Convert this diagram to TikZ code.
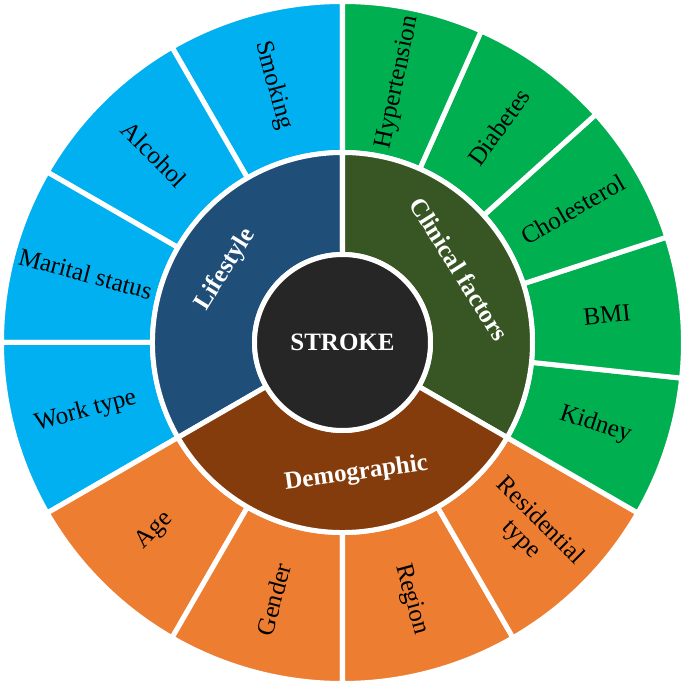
\documentclass[tikz,border=0pt]{standalone}
\usepackage{fontspec}
\setmainfont{Liberation Serif}
\definecolor{cblue}{HTML}{00B0F0}
\definecolor{cgreen}{HTML}{00B050}
\definecolor{corange}{HTML}{ED7D31}
\definecolor{dblue}{HTML}{1F4E79}
\definecolor{dgreen}{HTML}{375623}
\definecolor{dbrown}{HTML}{843C0C}
\definecolor{ccore}{HTML}{262626}
\tikzset{sep/.style={draw=white,line width=5pt,line join=miter},
 olab/.style={font=\fontsize{25}{26}\selectfont,align=center,text=black,inner sep=1pt},
 mlab/.style={font=\bfseries\fontsize{25}{27}\selectfont,text=white,inner sep=1pt}}
\newcommand{\sector}[5]{\filldraw[sep,fill=#1] (#2:#4) arc (#2:#3:#4) -- (#3:#5) arc (#3:#2:#5) -- cycle;}
\begin{document}
\begin{tikzpicture}[x=1pt,y=1pt]
\useasboundingbox (-342.5,-342.5) rectangle (342.5,342.5);
\foreach \a in {90,120,150,180}{\sector{cblue}{\a}{\a+30}{190}{341}}
\foreach \a in {210,240,270,300}{\sector{corange}{\a}{\a+30}{190}{341}}
\foreach \a in {-30,-6,18,42,66}{\sector{cgreen}{\a}{\a+24}{190}{341}}
\sector{dblue}{90}{210}{88}{190}
\sector{dgreen}{-30}{90}{88}{190}
\sector{dbrown}{210}{330}{88}{190}
\filldraw[fill=ccore,draw=white,line width=5pt] (0,0) circle (88);
\node[mlab] (core) at (0,0) {STROKE};
\node[mlab,rotate=58] (life) at (148:138) {Lifestyle};
\node[mlab,rotate=-58] (clin) at (32:138) {Clinical factors};
\node[mlab,rotate=8] (demo) at (276:132) {Demographic};
\node[olab,rotate=-75] (smok) at (105:266) {Smoking};
\node[olab,rotate=-45] (alc) at (135:266) {Alcohol};
\node[olab,rotate=-15] (mar) at (165:266) {Marital status};
\node[olab,rotate=15] (work) at (195:266) {Work type};
\node[olab,rotate=45] (age) at (225:266) {Age};
\node[olab,rotate=75] (gen) at (255:266) {Gender};
\node[olab,rotate=-75] (reg) at (285:266) {Region};
\node[olab,rotate=-45] (res) at (315:266) {Residential\\type};
\node[olab,rotate=-18] (kid) at (-18:266) {Kidney};
\node[olab,rotate=6] (bmi) at (6:266) {BMI};
\node[olab,rotate=30] (chol) at (30:266) {Cholesterol};
\node[olab,rotate=54] (diab) at (54:266) {Diabetes};
\node[olab,rotate=78] (hyp) at (78:266) {Hypertension};
\end{tikzpicture}
\end{document}
